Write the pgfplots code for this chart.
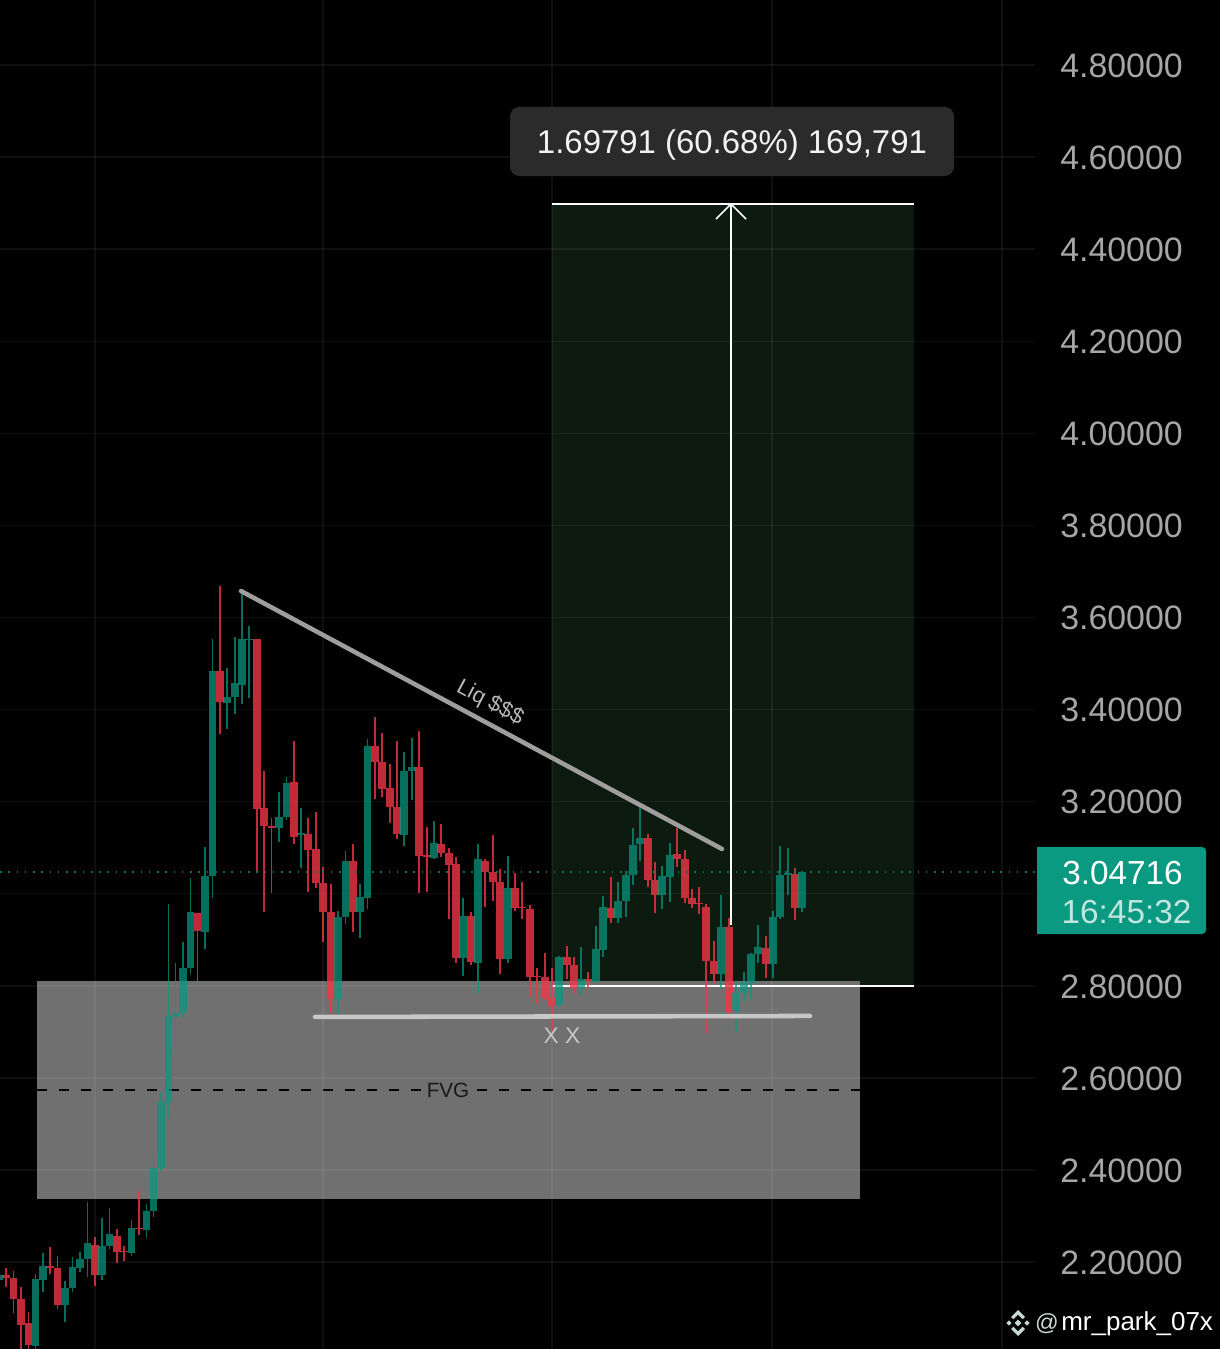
\documentclass[border=0pt]{standalone}
\usepackage{pgfplots}
\usepackage{pgfplotstable}
\usepackage{fontspec}
\setmainfont{Liberation Sans}
\pgfplotsset{compat=1.18}
\definecolor{upc}{HTML}{089981}
\definecolor{dnc}{HTML}{F23645}
\definecolor{tick}{HTML}{A6A6A6}
\definecolor{zone}{HTML}{0D1A0F}
\definecolor{fvg}{HTML}{707070}
\definecolor{tip}{HTML}{2B2B2B}
\definecolor{tag}{HTML}{0A9981}
\definecolor{logo}{HTML}{C6DAD2}
% columns: position on the time axis, body bottom, body top, high, low (prices)
\pgfplotstableread{
x b t h l
6 2.165 2.172 2.187 2.146
13.7 2.120 2.165 2.180 2.089
21 2.063 2.120 2.146 1.987
28.3 2.020 2.068 2.092 1.987
50 2.187 2.191 2.233 2.174
57.7 2.107 2.187 2.213 2.098
95 2.172 2.237 2.254 2.148
117 2.222 2.257 2.272 2.198
124 2.222 2.224 2.235 2.202
139 2.272 2.274 2.354 2.259
197.7 2.919 2.958 2.958 2.806
220 3.416 3.484 3.668 3.347
257 3.184 3.553 3.553 3.049
264 3.147 3.186 3.267 2.960
271.7 3.143 3.147 3.165 3.002
294 3.123 3.243 3.332 3.108
308 3.095 3.130 3.165 3.004
316 3.023 3.097 3.177 3.012
323 2.960 3.023 3.058 2.895
331 2.771 2.960 3.021 2.741
353 2.960 3.071 3.108 2.917
375 3.286 3.321 3.384 3.206
382 3.228 3.286 3.349 3.210
390 3.188 3.230 3.282 3.154
397 3.130 3.188 3.332 3.119
419 3.082 3.275 3.353 3.002
427 3.080 3.084 3.145 3.004
441 3.088 3.108 3.151 3.080
449 3.063 3.088 3.099 2.945
456 2.860 3.065 3.080 2.850
471 2.852 2.952 2.960 2.845
485 3.047 3.071 3.076 2.971
493 3.025 3.047 3.127 2.984
500 2.858 3.025 3.054 2.826
515 2.969 3.012 3.045 2.962
522 2.969 2.971 3.025 2.945
530 2.819 2.967 2.976 2.776
537 2.819 2.821 2.839 2.763
545 2.773 2.819 2.871 2.769
552 2.756 2.773 2.839 2.704
567 2.845 2.863 2.887 2.815
574 2.795 2.845 2.863 2.784
588 2.810 2.815 2.830 2.795
611 2.948 2.969 3.037 2.937
648 3.030 3.121 3.130 3.015
655 2.997 3.030 3.069 2.958
677 3.076 3.086 3.143 3.058
685 2.991 3.076 3.095 2.980
692 2.978 2.991 3.010 2.969
699 2.978 2.980 3.015 2.956
706 2.854 2.971 2.978 2.698
714 2.826 2.854 2.897 2.806
729 2.743 2.928 2.948 2.728
766 2.848 2.882 2.908 2.817
795 2.969 3.043 3.056 2.943
}\downcandles
\pgfplotstableread{
x b t h l
-1 2.161 2.172 2.178 2.154
35.7 2.018 2.163 2.174 2.011
43 2.161 2.191 2.220 2.135
65 2.107 2.144 2.159 2.070
72.7 2.144 2.189 2.211 2.135
80 2.187 2.207 2.222 2.178
87.3 2.207 2.241 2.330 2.167
102 2.172 2.235 2.296 2.161
109.3 2.235 2.261 2.317 2.228
131.7 2.220 2.274 2.291 2.213
146.3 2.270 2.311 2.326 2.252
153.7 2.311 2.404 2.428 2.298
161 2.404 2.548 2.569 2.398
168.3 2.545 2.734 2.978 2.515
175.7 2.732 2.741 2.850 2.663
183 2.741 2.839 2.895 2.730
190.3 2.839 2.960 3.034 2.826
205 2.917 3.039 3.102 2.880
212.7 3.039 3.484 3.553 2.991
227 3.414 3.427 3.490 3.358
235 3.427 3.458 3.558 3.390
242 3.453 3.553 3.655 3.412
249 3.551 3.553 3.582 3.425
279 3.143 3.167 3.221 3.112
286.7 3.167 3.241 3.254 3.160
301 3.127 3.132 3.186 3.056
338 2.771 2.950 2.962 2.730
345.7 2.950 3.071 3.093 2.934
360 2.960 2.993 3.021 2.904
367.7 2.991 3.321 3.336 2.967
404 3.127 3.267 3.308 3.104
412 3.267 3.275 3.338 3.204
434 3.078 3.110 3.158 3.076
463 2.860 2.952 2.991 2.821
478 2.850 3.076 3.108 2.784
508 2.858 3.012 3.082 2.850
559 2.758 2.863 2.865 2.754
581 2.795 2.815 2.885 2.780
596 2.808 2.880 2.930 2.808
603 2.878 2.971 2.995 2.863
618 2.948 2.984 3.025 2.937
626 2.984 3.041 3.049 2.950
633 3.041 3.106 3.143 3.019
640 3.108 3.121 3.188 3.071
662 2.997 3.039 3.060 2.967
670 3.037 3.084 3.110 2.982
721 2.826 2.928 2.997 2.793
736 2.745 2.784 2.810 2.700
744 2.784 2.808 2.830 2.765
751 2.806 2.869 2.871 2.771
758 2.869 2.885 2.932 2.850
773 2.848 2.950 2.962 2.817
780 2.950 3.041 3.104 2.945
788 3.041 3.045 3.099 2.997
802 2.969 3.047 3.049 2.960
}\upcandles
\pgfplotsset{
  seg/.style n args={3}{draw=none, no markers, forget plot,
    error bars/.cd, y dir=plus, y explicit, error mark=none,
    error bar style={draw=#1, solid, line width=#2, opacity=#3, line cap=butt}},
}
\newcommand\candles[3]{%
  \addplot[seg={#2}{1.15pt}{#3}] table[x=x, y=t, y error plus expr=\thisrow{h}-\thisrow{t}] {#1};
  \addplot[seg={#2}{1.15pt}{#3}] table[x=x, y=l, y error plus expr=\thisrow{b}-\thisrow{l}] {#1};
  \addplot[seg={#2}{5.5pt}{#3}] table[x=x, y=b, y error plus expr=\thisrow{t}-\thisrow{b}] {#1};
}
\newcommand\fs[1]{\fontsize{#1}{#1}\selectfont}
\begin{document}
\begin{tikzpicture}
\begin{axis}[
  scale only axis, width=915pt, height=1011.75pt,
  xmin=0, xmax=1220, ymin=2.0111, ymax=4.9412,
  axis background/.style={fill=black},
  axis line style={draw=none}, tick style={draw=none}, major tick length=0pt,
  xtick=\empty,
  ytick={2.0,2.2,2.4,2.6,2.8,3.0,3.2,3.4,3.6,3.8,4.0,4.2,4.4,4.6,4.8},
  yticklabels={2.00000,2.20000,2.40000,2.60000,2.80000,3.00000,3.20000,3.40000,3.60000,3.80000,4.00000,4.20000,4.40000,4.60000,4.80000},
  yticklabel pos=right,
  yticklabel style={anchor=east, xshift=-27.75pt, yshift=-.5pt, inner sep=0pt, text=tick, font=\fs{25.4pt}},
]
% long position zone
\fill[zone] (axis cs:552,2.8) rectangle (axis cs:914,4.498);
% FVG box
\fill[fvg] (axis cs:37,2.337) rectangle (axis cs:860,2.8108);
\draw[black, line width=1.5pt, dash pattern=on 7.5pt off 9pt] (axis cs:37,2.5737) -- (axis cs:860,2.5737);
\node[fill=fvg, inner sep=1pt, text=black!90, font=\fs{15.5pt}] at (axis cs:448,2.5737) {FVG};
% grid
\pgfplotsinvokeforeach{2.2,2.4,2.6,2.8,3.0,3.2,3.4,3.6,3.8,4.0,4.2,4.4,4.6,4.8}{
  \draw[white, opacity=.06, line width=1.1pt] (axis cs:0,#1) -- (axis cs:1035,#1);
}
\pgfplotsinvokeforeach{95,323,552,772,1002}{
  \draw[white, opacity=.06, line width=1.1pt] (axis cs:#1,2.0111) -- (axis cs:#1,4.9412);
}
% target box edges and arrow
\draw[white, line width=1.5pt] (axis cs:552,4.498) -- (axis cs:914,4.498);
\draw[white, line width=1.5pt] (axis cs:552,2.8) -- (axis cs:914,2.8);
\draw[white, line width=1.6pt] (axis cs:731,2.932) -- (axis cs:731,4.498);
\draw[white, line width=1.2pt] (axis cs:716,4.4655) -- (axis cs:731,4.498) -- (axis cs:746,4.4655);
% candles
\candles{\downcandles}{dnc}{.8}
\candles{\upcandles}{upc}{.72}
% drawings
\draw[white!62!black, line width=3.4pt, line cap=round] (axis cs:241,3.6575) -- (axis cs:722,3.0972);
\draw[white!78!black, line width=3.4pt, line cap=round] (axis cs:315,2.7323) -- (axis cs:810,2.7345);
\node[text=white!72!black, rotate=-28, font=\fs{16.5pt}] at (axis cs:490,3.4143) {Liq \$\$\$};
\node[text=white!78!black, font=\fs{17pt}] at (axis cs:562,2.691) {X X};
\draw[upc!75!black, line width=1.1pt, dash pattern=on 1.2pt off 5pt] (axis cs:0,3.04716) -- (axis cs:1035,3.04716);
% measure tooltip
\fill[tip, rounded corners=7pt] (axis cs:510,4.5589) rectangle (axis cs:954,4.7088);
\node[text=white!95!black, font=\fs{24.7pt}] at (axis cs:732,4.6273) {1.69791 (60.68\%) 169,791};
% last price tag
\fill[tag, rounded corners=3pt] (axis cs:1037,2.9125) rectangle (axis cs:1206,3.1015);
\fill[tag] (axis cs:1037,2.9125) rectangle (axis cs:1060,3.1015);
\node[text=white, font=\fs{25pt}] at (axis cs:1122.5,3.0453) {3.04716};
\node[text=white!75!tag, font=\fs{25pt}] at (axis cs:1126.5,2.9603) {16:45:32};
% watermark
\node[anchor=west, inner sep=0pt, text=white, font=\fs{19.5pt}] at (axis cs:1061,2.0655) {mr\_park\_07x};
\node[inner sep=0pt, text=logo, font=\fs{17.5pt}] at (axis cs:1047,2.0655) {@};
\begin{scope}[shift={(axis cs:1018,2.0676)}, x=.75pt, y=.75pt]
  \fill[logo] (0,-3.4) -- (3.4,0) -- (0,3.4) -- (-3.4,0) -- cycle;
  \fill[logo] (-9,-2.6) -- (-6.4,0) -- (-9,2.6) -- (-11.6,0) -- cycle;
  \fill[logo] (9,-2.6) -- (11.6,0) -- (9,2.6) -- (6.4,0) -- cycle;
  \fill[logo] (0,13) -- (7,6) -- (4.6,3.8) -- (0,8.4) -- (-4.6,3.8) -- (-7,6) -- cycle;
  \fill[logo] (0,-13) -- (7,-6) -- (4.6,-3.8) -- (0,-8.4) -- (-4.6,-3.8) -- (-7,-6) -- cycle;
\end{scope}
\end{axis}
\pgfresetboundingbox
\path[use as bounding box] (0,0) rectangle (915pt,1011.75pt);
\end{tikzpicture}
\end{document}
